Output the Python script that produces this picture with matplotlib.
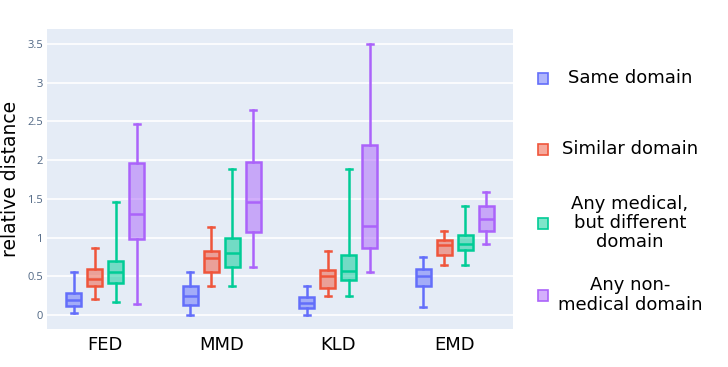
import matplotlib.pyplot as plt
from matplotlib.patches import Rectangle

# valores: (whislo, q1, med, q3, whishi)
metricas = ["FED", "MMD", "KLD", "EMD"]
grupos = [
    "Same domain",
    "Similar domain",
    "Any medical,\nbut different\ndomain",
    "Any non-\nmedical domain",
]
cores = ["#636EFA", "#EF553B", "#00CC96", "#AB63FA"]

same_domain = [
    (0.03, 0.12, 0.19, 0.29, 0.56),
    (0.00, 0.13, 0.25, 0.38, 0.55),
    (0.00, 0.09, 0.16, 0.23, 0.37),
    (0.10, 0.38, 0.51, 0.60, 0.75),
]
similar_domain = [
    (0.21, 0.38, 0.46, 0.59, 0.86),
    (0.37, 0.56, 0.73, 0.83, 1.14),
    (0.25, 0.35, 0.50, 0.58, 0.82),
    (0.65, 0.77, 0.90, 0.97, 1.09),
]
medical_other = [
    (0.17, 0.41, 0.55, 0.70, 1.46),
    (0.37, 0.62, 0.80, 0.99, 1.88),
    (0.25, 0.45, 0.57, 0.77, 1.89),
    (0.65, 0.84, 0.92, 1.03, 1.41),
]
non_medical = [
    (0.14, 0.98, 1.31, 1.96, 2.47),
    (0.62, 1.07, 1.46, 1.98, 2.64),
    (0.55, 0.86, 1.15, 2.19, 3.50),
    (0.92, 1.09, 1.24, 1.41, 1.59),
]
series = [same_domain, similar_domain, medical_other, non_medical]

yticks = [0, 0.5, 1, 1.5, 2, 2.5, 3, 3.5]
ytick_labels = ["0", "0.5", "1", "1.5", "2", "2.5", "3", "3.5"]


def gerar_grafico():

    fig = plt.figure(figsize=(7.28, 3.67), dpi=100)
    ax = fig.add_axes([0.0646, 0.1035, 0.6401, 0.8174])
    ax.set_facecolor("#E5ECF6")

    passo = 0.18
    largura = 0.13

    for i, (dados, cor) in enumerate(zip(series, cores)):
        stats = []
        for lo, q1, med, q3, hi in dados:
            stats.append({
                "whislo": lo, "q1": q1, "med": med,
                "q3": q3, "whishi": hi, "fliers": [],
            })
        posicoes = [k + (i - 1.5) * passo for k in range(len(metricas))]
        ax.bxp(
            stats,
            positions=posicoes,
            widths=largura,
            capwidths=largura * 0.4,
            patch_artist=True,
            showfliers=False,
            boxprops=dict(facecolor=cor + "80", edgecolor=cor, linewidth=1.8),
            medianprops=dict(color=cor, linewidth=1.8),
            whiskerprops=dict(color=cor, linewidth=1.8),
            capprops=dict(color=cor, linewidth=1.8),
            zorder=3,
        )

    ax.set_xlim(-0.5, 3.5)
    ax.set_ylim(-0.18, 3.69)
    ax.set_xticks(range(len(metricas)))
    ax.set_xticklabels(metricas, fontsize=13, family="DejaVu Sans")
    ax.set_yticks(yticks)
    ax.set_yticklabels(ytick_labels, fontsize=8, family="Open Sans",
                       color="#506784")
    ax.tick_params(axis="both", length=0)
    ax.tick_params(axis="x", pad=5)
    ax.tick_params(axis="y", pad=3)
    ax.grid(axis="y", color="white", linewidth=1.2, zorder=0)
    ax.set_axisbelow(True)
    for lado in ax.spines.values():
        lado.set_visible(False)

    ax.set_ylabel("relative distance", fontsize=13.5, family="DejaVu Sans")
    ax.yaxis.set_label_coords(-0.058, 0.5)

    # legenda manual (estilo plotly)
    legenda_y = [78, 149, 223, 295]
    for nome, cor, yp in zip(grupos, cores, legenda_y):
        yf = 1 - yp / 367
        fig.add_artist(Rectangle(
            (538 / 728, yf - 5.5 / 367), 10 / 728, 11 / 367,
            transform=fig.transFigure, facecolor=cor + "80",
            edgecolor=cor, linewidth=1.2,
        ))
        fig.text(630 / 728, yf, nome, ha="center", va="center",
                 fontsize=13, family="DejaVu Sans", linespacing=1.08)

    fig.savefig("out.png", dpi=100)
    plt.close(fig)


if __name__ == "__main__":

    gerar_grafico()
